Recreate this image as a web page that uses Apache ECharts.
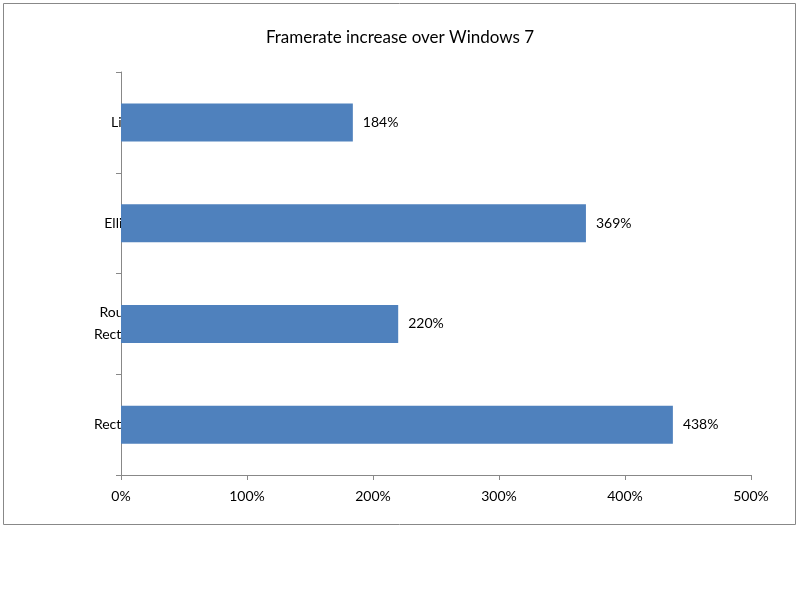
<!DOCTYPE html>
<html>
<head>
<meta charset="utf-8">
<script src="https://cdn.jsdelivr.net/npm/echarts@6/dist/echarts.min.js"></script>
<style>html,body{margin:0;padding:0;background:#fff}#chart{width:800px;height:600px}</style>
</head>
<body>
<div id="chart"></div>
<script>
// data
const categories = ['Rectangles', 'Rounded\nRectangles', 'Ellipses', 'Lines']
const increase = [438, 220, 369, 184]

const chart = echarts.init(document.getElementById('chart'))
chart.setOption({
  textStyle:{ fontFamily:'Lato', color:'#000' },
  title:{
    text:'Framerate increase over Windows 7',
    left:'center',
    top:24,
    textStyle:{ fontSize:17, fontWeight:'normal', color:'#000', fontFamily:'Lato' }
  },
  graphic:[{
    type:'rect',
    shape:{ x:3.5, y:3.5, width:792, height:521 },
    style:{ fill:'none', stroke:'#888', lineWidth:1 }
  }],
  grid:{ left:121, right:49, top:72, bottom:125 },
  xAxis:{
    type:'value',
    min:0,
    max:500,
    interval:100,
    splitLine:{ show:false },
    axisLine:{ show:true, lineStyle:{ color:'#888' } },
    axisTick:{ show:true, length:5, lineStyle:{ color:'#888' } },
    axisLabel:{ formatter:'{value}%', fontSize:14, color:'#000', margin:14 }
  },
  yAxis:{
    type:'category',
    data:categories,
    axisLine:{ lineStyle:{ color:'#888' } },
    axisTick:{ show:true, length:5, lineStyle:{ color:'#888' } },
    axisLabel:{ fontSize:14, color:'#000', margin:14, lineHeight:22, align:'center', padding:[0,-40,0,0] }
  },
  series:[{
    type:'bar',
    data:increase,
    barWidth:38,
    itemStyle:{ color:'#4f81bd' },
    label:{ show:true, position:'right', formatter:'{c}%', fontSize:14, color:'#000', distance:10 }
  }]
})
</script>
</body>
</html>
